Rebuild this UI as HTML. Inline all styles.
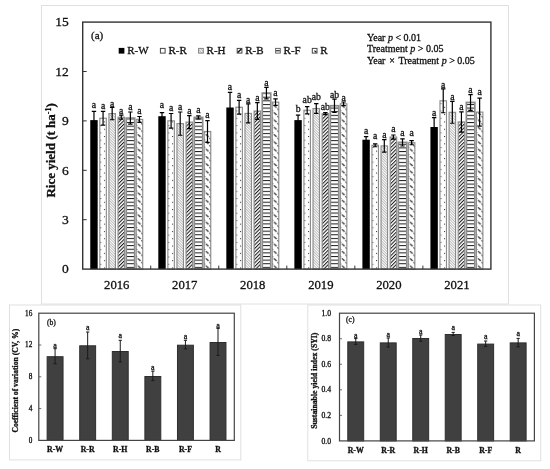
<!DOCTYPE html>
<html><head><meta charset="utf-8"><title>Rice yield figure</title>
<style>
html,body{margin:0;padding:0;background:#fff;}
svg{display:block;font-family:"Liberation Serif", serif;filter:blur(0.35px);}
text{fill:#111;stroke:#111;stroke-width:0.3px;}
</style></head><body>
<svg width="550" height="469" viewBox="0 0 550 469">
<defs>
<pattern id="pDot" width="7.3" height="7.3" patternUnits="userSpaceOnUse" patternTransform="translate(0.9 183.5)">
<rect width="7.3" height="7.3" fill="#fff"/>
<rect x="0" y="0" width="1" height="1" fill="#333"/>
<rect x="3.65" y="3.65" width="1" height="1" fill="#333"/>
</pattern>
<pattern id="pThin" width="1.9" height="1.9" patternUnits="userSpaceOnUse" patternTransform="rotate(45)">
<rect width="1.9" height="1.9" fill="#fff"/>
<rect x="0" y="0" width="1.9" height="0.55" fill="#888"/>
</pattern>
<pattern id="pWide" width="2.55" height="2.55" patternUnits="userSpaceOnUse" patternTransform="rotate(-45)">
<rect width="2.55" height="2.55" fill="#fff"/>
<rect x="0" y="0" width="2.55" height="1.05" fill="#1a1a1a"/>
</pattern>
<pattern id="pHor" width="3.62" height="3.62" patternUnits="userSpaceOnUse" patternTransform="translate(0 2.6)">
<rect width="3.62" height="3.62" fill="#fff"/>
<rect x="0" y="0" width="3.62" height="1.0" fill="#1a1a1a"/>
</pattern>
<pattern id="pDash" width="7.3" height="7.3" patternUnits="userSpaceOnUse" patternTransform="translate(0 2.65)">
<rect width="7.3" height="7.3" fill="#fff"/>
<path d="M2.0 0.3 L4.8 2.7 M5.65 3.95 L8.45 6.35 M-1.65 3.95 L1.15 6.35" stroke="#111" stroke-width="1.05" fill="none"/>
</pattern>
</defs>
<rect width="550" height="469" fill="#fff"/>

<rect x="41.5" y="5.5" width="467" height="298.5" fill="#fff" stroke="#e0e0e0" stroke-width="1"/>
<rect x="9.5" y="305" width="231.3" height="154.9" fill="#fff" stroke="#e0e0e0" stroke-width="1"/>
<rect x="307.8" y="305" width="232.9" height="155.8" fill="#fff" stroke="#e0e0e0" stroke-width="1"/>
<rect x="90.27" y="120.10" width="7.4" height="149.00" fill="#000"/>
<path d="M93.97 111.40V128.80M91.77 111.40h4.4M91.77 128.80h4.4" stroke="#000" stroke-width="1.2" fill="none"/>
<text x="93.97" y="107.50" font-size="9.7" text-anchor="middle">a</text>
<g transform="translate(99.37 0)"><rect x="0.45" y="118.22" width="6.50" height="150.88" fill="url(#pDot)" stroke="#8c8c8c" stroke-width="1.15"/></g>
<path d="M103.07 111.40V125.05M100.87 111.40h4.4M100.87 125.05h4.4" stroke="#000" stroke-width="1.2" fill="none"/>
<text x="103.07" y="108.80" font-size="9.7" text-anchor="middle">a</text>
<g transform="translate(108.47 0)"><rect x="0.45" y="113.62" width="6.50" height="155.48" fill="url(#pThin)" stroke="#8c8c8c" stroke-width="1.15"/></g>
<path d="M112.17 107.50V119.75M109.97 107.50h4.4M109.97 119.75h4.4" stroke="#000" stroke-width="1.2" fill="none"/>
<text x="112.17" y="106.90" font-size="9.7" text-anchor="middle">a</text>
<g transform="translate(117.57 0)"><rect x="0.45" y="117.22" width="6.50" height="151.88" fill="url(#pWide)" stroke="#8c8c8c" stroke-width="1.15"/></g>
<path d="M121.27 115.20V119.25M119.07 115.20h4.4M119.07 119.25h4.4" stroke="#000" stroke-width="1.2" fill="none"/>
<text x="121.27" y="114.30" font-size="9.7" text-anchor="middle">a</text>
<g transform="translate(126.67 0)"><rect x="-0.45" y="118.10" width="8.45" height="151.00" fill="url(#pHor)" stroke="#8c8c8c" stroke-width="1.7"/></g>
<path d="M130.37 112.00V124.20M128.17 112.00h4.4M128.17 124.20h4.4" stroke="#000" stroke-width="1.2" fill="none"/>
<text x="130.37" y="110.00" font-size="9.7" text-anchor="middle">a</text>
<g transform="translate(135.77 0)"><rect x="0.45" y="119.42" width="6.50" height="149.68" fill="url(#pDash)" stroke="#8c8c8c" stroke-width="1.15"/></g>
<path d="M139.47 116.50V122.35M137.27 116.50h4.4M137.27 122.35h4.4" stroke="#000" stroke-width="1.2" fill="none"/>
<text x="139.47" y="113.50" font-size="9.7" text-anchor="middle">a</text>
<text x="116.72" y="288.6" font-size="12.7" text-anchor="middle">2016</text>
<rect x="158.30" y="116.20" width="7.4" height="152.90" fill="#000"/>
<path d="M162.00 112.60V119.80M159.80 112.60h4.4M159.80 119.80h4.4" stroke="#000" stroke-width="1.2" fill="none"/>
<text x="162.00" y="108.40" font-size="9.7" text-anchor="middle">a</text>
<g transform="translate(167.40 0)"><rect x="0.45" y="120.83" width="6.50" height="148.28" fill="url(#pDot)" stroke="#8c8c8c" stroke-width="1.15"/></g>
<path d="M171.10 113.50V128.15M168.90 113.50h4.4M168.90 128.15h4.4" stroke="#000" stroke-width="1.2" fill="none"/>
<text x="171.10" y="111.40" font-size="9.7" text-anchor="middle">a</text>
<g transform="translate(176.50 0)"><rect x="0.45" y="123.62" width="6.50" height="145.48" fill="url(#pThin)" stroke="#8c8c8c" stroke-width="1.15"/></g>
<path d="M180.20 112.00V135.25M178.00 112.00h4.4M178.00 135.25h4.4" stroke="#000" stroke-width="1.2" fill="none"/>
<text x="180.20" y="110.00" font-size="9.7" text-anchor="middle">a</text>
<g transform="translate(185.60 0)"><rect x="0.45" y="122.12" width="6.50" height="146.98" fill="url(#pWide)" stroke="#8c8c8c" stroke-width="1.15"/></g>
<path d="M189.30 115.60V128.65M187.10 115.60h4.4M187.10 128.65h4.4" stroke="#000" stroke-width="1.2" fill="none"/>
<text x="189.30" y="114.00" font-size="9.7" text-anchor="middle">a</text>
<g transform="translate(194.70 0)"><rect x="-0.45" y="117.40" width="8.45" height="151.70" fill="url(#pHor)" stroke="#8c8c8c" stroke-width="1.7"/></g>
<path d="M198.40 115.80V119.00M196.20 115.80h4.4M196.20 119.00h4.4" stroke="#000" stroke-width="1.2" fill="none"/>
<text x="198.40" y="113.00" font-size="9.7" text-anchor="middle">a</text>
<g transform="translate(203.80 0)"><rect x="0.45" y="131.53" width="6.50" height="137.58" fill="url(#pDash)" stroke="#8c8c8c" stroke-width="1.15"/></g>
<path d="M207.50 120.70V142.35M205.30 120.70h4.4M205.30 142.35h4.4" stroke="#000" stroke-width="1.2" fill="none"/>
<text x="207.50" y="118.10" font-size="9.7" text-anchor="middle">a</text>
<text x="184.75" y="288.6" font-size="12.7" text-anchor="middle">2017</text>
<rect x="226.33" y="107.50" width="7.4" height="161.60" fill="#000"/>
<path d="M230.03 92.40V122.60M227.83 92.40h4.4M227.83 122.60h4.4" stroke="#000" stroke-width="1.2" fill="none"/>
<text x="230.03" y="89.50" font-size="9.7" text-anchor="middle">a</text>
<g transform="translate(235.43 0)"><rect x="0.45" y="107.22" width="6.50" height="161.88" fill="url(#pDot)" stroke="#8c8c8c" stroke-width="1.15"/></g>
<path d="M239.13 100.30V114.15M236.93 100.30h4.4M236.93 114.15h4.4" stroke="#000" stroke-width="1.2" fill="none"/>
<text x="239.13" y="98.40" font-size="9.7" text-anchor="middle">a</text>
<g transform="translate(244.53 0)"><rect x="0.45" y="113.42" width="6.50" height="155.68" fill="url(#pThin)" stroke="#8c8c8c" stroke-width="1.15"/></g>
<path d="M248.23 103.90V122.95M246.03 103.90h4.4M246.03 122.95h4.4" stroke="#000" stroke-width="1.2" fill="none"/>
<text x="248.23" y="102.60" font-size="9.7" text-anchor="middle">a</text>
<g transform="translate(253.63 0)"><rect x="0.45" y="111.03" width="6.50" height="158.08" fill="url(#pWide)" stroke="#8c8c8c" stroke-width="1.15"/></g>
<path d="M257.33 102.60V119.45M255.13 102.60h4.4M255.13 119.45h4.4" stroke="#000" stroke-width="1.2" fill="none"/>
<text x="257.33" y="100.70" font-size="9.7" text-anchor="middle">a</text>
<g transform="translate(262.73 0)"><rect x="-0.45" y="93.05" width="8.45" height="176.05" fill="url(#pHor)" stroke="#8c8c8c" stroke-width="1.7"/></g>
<path d="M266.43 87.30V98.80M264.23 87.30h4.4M264.23 98.80h4.4" stroke="#000" stroke-width="1.2" fill="none"/>
<text x="266.43" y="86.00" font-size="9.7" text-anchor="middle">a</text>
<g transform="translate(271.83 0)"><rect x="0.45" y="102.12" width="6.50" height="166.98" fill="url(#pDash)" stroke="#8c8c8c" stroke-width="1.15"/></g>
<path d="M275.53 98.80V105.45M273.33 98.80h4.4M273.33 105.45h4.4" stroke="#000" stroke-width="1.2" fill="none"/>
<text x="275.53" y="96.20" font-size="9.7" text-anchor="middle">a</text>
<text x="252.78" y="288.6" font-size="12.7" text-anchor="middle">2018</text>
<rect x="294.37" y="120.10" width="7.4" height="149.00" fill="#000"/>
<path d="M298.07 115.20V125.00M295.87 115.20h4.4M295.87 125.00h4.4" stroke="#000" stroke-width="1.2" fill="none"/>
<text x="298.07" y="112.00" font-size="9.7" text-anchor="middle">b</text>
<g transform="translate(303.47 0)"><rect x="0.45" y="110.22" width="6.50" height="158.88" fill="url(#pDot)" stroke="#8c8c8c" stroke-width="1.15"/></g>
<path d="M307.17 106.60V113.85M304.97 106.60h4.4M304.97 113.85h4.4" stroke="#000" stroke-width="1.2" fill="none"/>
<text x="307.17" y="103.20" font-size="9.7" text-anchor="middle">ab</text>
<g transform="translate(312.57 0)"><rect x="0.45" y="108.53" width="6.50" height="160.58" fill="url(#pThin)" stroke="#8c8c8c" stroke-width="1.15"/></g>
<path d="M316.27 103.70V113.35M314.07 103.70h4.4M314.07 113.35h4.4" stroke="#000" stroke-width="1.2" fill="none"/>
<text x="316.27" y="99.50" font-size="9.7" text-anchor="middle">ab</text>
<g transform="translate(321.67 0)"><rect x="0.45" y="113.62" width="6.50" height="155.48" fill="url(#pWide)" stroke="#8c8c8c" stroke-width="1.15"/></g>
<path d="M325.37 112.60V114.65M323.17 112.60h4.4M323.17 114.65h4.4" stroke="#000" stroke-width="1.2" fill="none"/>
<text x="325.37" y="110.00" font-size="9.7" text-anchor="middle">ab</text>
<g transform="translate(330.77 0)"><rect x="-0.45" y="105.75" width="8.45" height="163.35" fill="url(#pHor)" stroke="#8c8c8c" stroke-width="1.7"/></g>
<path d="M334.47 99.20V112.30M332.27 99.20h4.4M332.27 112.30h4.4" stroke="#000" stroke-width="1.2" fill="none"/>
<text x="334.47" y="97.60" font-size="9.7" text-anchor="middle">ab</text>
<g transform="translate(339.87 0)"><rect x="0.45" y="103.83" width="6.50" height="165.28" fill="url(#pDash)" stroke="#8c8c8c" stroke-width="1.15"/></g>
<path d="M343.57 102.00V105.65M341.37 102.00h4.4M341.37 105.65h4.4" stroke="#000" stroke-width="1.2" fill="none"/>
<text x="343.57" y="100.50" font-size="9.7" text-anchor="middle">a</text>
<text x="320.82" y="288.6" font-size="12.7" text-anchor="middle">2019</text>
<rect x="362.40" y="139.70" width="7.4" height="129.40" fill="#000"/>
<path d="M366.10 136.60V142.80M363.90 136.60h4.4M363.90 142.80h4.4" stroke="#000" stroke-width="1.2" fill="none"/>
<text x="366.10" y="133.70" font-size="9.7" text-anchor="middle">a</text>
<g transform="translate(371.50 0)"><rect x="0.45" y="145.32" width="6.50" height="123.78" fill="url(#pDot)" stroke="#8c8c8c" stroke-width="1.15"/></g>
<path d="M375.20 143.90V146.75M373.00 143.90h4.4M373.00 146.75h4.4" stroke="#000" stroke-width="1.2" fill="none"/>
<text x="375.20" y="138.80" font-size="9.7" text-anchor="middle">a</text>
<g transform="translate(380.60 0)"><rect x="0.45" y="145.93" width="6.50" height="123.18" fill="url(#pThin)" stroke="#8c8c8c" stroke-width="1.15"/></g>
<path d="M384.30 139.70V152.15M382.10 139.70h4.4M382.10 152.15h4.4" stroke="#000" stroke-width="1.2" fill="none"/>
<text x="384.30" y="137.90" font-size="9.7" text-anchor="middle">a</text>
<g transform="translate(389.70 0)"><rect x="0.45" y="137.03" width="6.50" height="132.08" fill="url(#pWide)" stroke="#8c8c8c" stroke-width="1.15"/></g>
<path d="M393.40 135.00V139.05M391.20 135.00h4.4M391.20 139.05h4.4" stroke="#000" stroke-width="1.2" fill="none"/>
<text x="393.40" y="132.40" font-size="9.7" text-anchor="middle">a</text>
<g transform="translate(398.80 0)"><rect x="-0.45" y="142.40" width="8.45" height="126.70" fill="url(#pHor)" stroke="#8c8c8c" stroke-width="1.7"/></g>
<path d="M402.50 138.80V146.00M400.30 138.80h4.4M400.30 146.00h4.4" stroke="#000" stroke-width="1.2" fill="none"/>
<text x="402.50" y="136.20" font-size="9.7" text-anchor="middle">a</text>
<g transform="translate(407.90 0)"><rect x="0.45" y="142.72" width="6.50" height="126.38" fill="url(#pDash)" stroke="#8c8c8c" stroke-width="1.15"/></g>
<path d="M411.60 140.70V144.75M409.40 140.70h4.4M409.40 144.75h4.4" stroke="#000" stroke-width="1.2" fill="none"/>
<text x="411.60" y="136.20" font-size="9.7" text-anchor="middle">a</text>
<text x="388.85" y="288.6" font-size="12.7" text-anchor="middle">2020</text>
<rect x="430.43" y="127.00" width="7.4" height="142.10" fill="#000"/>
<path d="M434.13 117.60V136.40M431.93 117.60h4.4M431.93 136.40h4.4" stroke="#000" stroke-width="1.2" fill="none"/>
<text x="434.13" y="115.80" font-size="9.7" text-anchor="middle">a</text>
<g transform="translate(439.53 0)"><rect x="0.45" y="100.83" width="6.50" height="168.28" fill="url(#pDot)" stroke="#8c8c8c" stroke-width="1.15"/></g>
<path d="M443.23 88.90V112.75M441.03 88.90h4.4M441.03 112.75h4.4" stroke="#000" stroke-width="1.2" fill="none"/>
<text x="443.23" y="87.70" font-size="9.7" text-anchor="middle">a</text>
<g transform="translate(448.63 0)"><rect x="0.45" y="112.33" width="6.50" height="156.78" fill="url(#pThin)" stroke="#8c8c8c" stroke-width="1.15"/></g>
<path d="M452.33 101.40V123.25M450.13 101.40h4.4M450.13 123.25h4.4" stroke="#000" stroke-width="1.2" fill="none"/>
<text x="452.33" y="99.70" font-size="9.7" text-anchor="middle">a</text>
<g transform="translate(457.73 0)"><rect x="0.45" y="121.92" width="6.50" height="147.18" fill="url(#pWide)" stroke="#8c8c8c" stroke-width="1.15"/></g>
<path d="M461.43 111.80V132.05M459.23 111.80h4.4M459.23 132.05h4.4" stroke="#000" stroke-width="1.2" fill="none"/>
<text x="461.43" y="109.70" font-size="9.7" text-anchor="middle">a</text>
<g transform="translate(466.83 0)"><rect x="-0.45" y="102.45" width="8.45" height="166.65" fill="url(#pHor)" stroke="#8c8c8c" stroke-width="1.7"/></g>
<path d="M470.53 94.60V110.30M468.33 94.60h4.4M468.33 110.30h4.4" stroke="#000" stroke-width="1.2" fill="none"/>
<text x="470.53" y="93.00" font-size="9.7" text-anchor="middle">a</text>
<g transform="translate(475.93 0)"><rect x="0.45" y="112.12" width="6.50" height="156.98" fill="url(#pDash)" stroke="#8c8c8c" stroke-width="1.15"/></g>
<path d="M479.63 98.20V126.05M477.43 98.20h4.4M477.43 126.05h4.4" stroke="#000" stroke-width="1.2" fill="none"/>
<text x="479.63" y="95.00" font-size="9.7" text-anchor="middle">a</text>
<text x="456.88" y="288.6" font-size="12.7" text-anchor="middle">2021</text>
<rect x="82.7" y="22.1" width="408.20" height="247.00" fill="none" stroke="#333" stroke-width="1.4"/>
<text x="68.8" y="273.40" font-size="13.5" text-anchor="end">0</text>
<path d="M82.7 219.70h4" stroke="#333" stroke-width="1"/>
<text x="68.8" y="224.00" font-size="13.5" text-anchor="end">3</text>
<path d="M82.7 170.30h4" stroke="#333" stroke-width="1"/>
<text x="68.8" y="174.60" font-size="13.5" text-anchor="end">6</text>
<path d="M82.7 120.90h4" stroke="#333" stroke-width="1"/>
<text x="68.8" y="125.20" font-size="13.5" text-anchor="end">9</text>
<path d="M82.7 71.50h4" stroke="#333" stroke-width="1"/>
<text x="68.8" y="75.80" font-size="13.5" text-anchor="end">12</text>
<text x="68.8" y="25.60" font-size="13.5" text-anchor="end">15</text>
<path d="M150.73 269.1v-3.5" stroke="#333" stroke-width="1"/>
<path d="M218.77 269.1v-3.5" stroke="#333" stroke-width="1"/>
<path d="M286.80 269.1v-3.5" stroke="#333" stroke-width="1"/>
<path d="M354.83 269.1v-3.5" stroke="#333" stroke-width="1"/>
<path d="M422.87 269.1v-3.5" stroke="#333" stroke-width="1"/>
<text transform="translate(55.3 150.4) rotate(-90)" font-size="13" font-weight="bold" text-anchor="middle">Rice yield (t ha<tspan font-size="8" dy="-4.5">-1</tspan><tspan dy="4.5">)</tspan></text>
<text x="91" y="38.5" font-size="11">(a)</text>
<rect x="118.7" y="47.9" width="5.7" height="5.7" fill="#000"/>
<text x="127.2" y="54.4" font-size="11">R-W</text>
<g transform="translate(159.9 0)"><rect x="0.5" y="48.4" width="4.7" height="4.7" fill="#fff" stroke="#444" stroke-width="1"/></g>
<text x="168.4" y="54.4" font-size="11">R-R</text>
<g transform="translate(198.1 0)"><rect x="0.5" y="48.4" width="4.7" height="4.7" fill="url(#pThin)" stroke="#808080" stroke-width="1"/></g>
<text x="206.6" y="54.4" font-size="11">R-H</text>
<g transform="translate(236.7 0)"><rect x="0.5" y="48.4" width="4.7" height="4.7" fill="#fff" stroke="#444" stroke-width="1"/><path d="M1 52.6L4.7 48.9" stroke="#111" stroke-width="1.4"/></g>
<text x="245.2" y="54.4" font-size="11">R-B</text>
<g transform="translate(275.1 0)"><rect x="0.5" y="48.4" width="4.7" height="4.7" fill="#fff" stroke="#666" stroke-width="1"/><path d="M1 50.75h3.7" stroke="#111" stroke-width="1.1"/></g>
<text x="283.6" y="54.4" font-size="11">R-F</text>
<g transform="translate(311.8 0)"><rect x="0.5" y="48.4" width="4.7" height="4.7" fill="#fff" stroke="#444" stroke-width="1"/><path d="M2.6 50.6L4.6 52.4" stroke="#111" stroke-width="1.2"/></g>
<text x="320.3" y="54.4" font-size="11">R</text>
<text x="367" y="40.5" font-size="10">Year <tspan font-style="italic">p</tspan> &lt; 0.01</text>
<text x="367" y="52.4" font-size="10">Treatment <tspan font-style="italic">p</tspan> &gt; 0.05</text>
<text x="367" y="64.3" font-size="10">Year <tspan dx="1.2">×</tspan><tspan dx="1.3"> Treatment </tspan><tspan font-style="italic">p</tspan> &gt; 0.05</text>
<rect x="47.14" y="356.70" width="15.899999999999999" height="83.70" fill="#404040" stroke="#2e2e2e" stroke-width="1"/>
<path d="M55.09 348.70V363.70M53.49 348.70h3.2M53.49 363.70h3.2" stroke="#1a1a1a" stroke-width="1" fill="none"/>
<text x="55.09" y="348.30" font-size="8" text-anchor="middle">a</text>
<text x="55.09" y="452.3" font-size="7.8" font-weight="bold" text-anchor="middle">R-W</text>
<rect x="79.72" y="345.80" width="15.899999999999999" height="94.60" fill="#404040" stroke="#2e2e2e" stroke-width="1"/>
<path d="M87.67 332.00V358.80M86.08 332.00h3.2M86.08 358.80h3.2" stroke="#1a1a1a" stroke-width="1" fill="none"/>
<text x="87.67" y="329.90" font-size="8" text-anchor="middle">a</text>
<text x="87.67" y="452.3" font-size="7.8" font-weight="bold" text-anchor="middle">R-R</text>
<rect x="112.31" y="351.50" width="15.899999999999999" height="88.90" fill="#404040" stroke="#2e2e2e" stroke-width="1"/>
<path d="M120.26 340.30V362.00M118.66 340.30h3.2M118.66 362.00h3.2" stroke="#1a1a1a" stroke-width="1" fill="none"/>
<text x="120.26" y="338.10" font-size="8" text-anchor="middle">a</text>
<text x="120.26" y="452.3" font-size="7.8" font-weight="bold" text-anchor="middle">R-H</text>
<rect x="144.89" y="376.50" width="15.899999999999999" height="63.90" fill="#404040" stroke="#2e2e2e" stroke-width="1"/>
<path d="M152.84 371.20V380.60M151.24 371.20h3.2M151.24 380.60h3.2" stroke="#1a1a1a" stroke-width="1" fill="none"/>
<text x="152.84" y="370.10" font-size="8" text-anchor="middle">a</text>
<text x="152.84" y="452.3" font-size="7.8" font-weight="bold" text-anchor="middle">R-B</text>
<rect x="177.48" y="345.20" width="15.899999999999999" height="95.20" fill="#404040" stroke="#2e2e2e" stroke-width="1"/>
<path d="M185.43 340.30V348.90M183.83 340.30h3.2M183.83 348.90h3.2" stroke="#1a1a1a" stroke-width="1" fill="none"/>
<text x="185.43" y="338.70" font-size="8" text-anchor="middle">a</text>
<text x="185.43" y="452.3" font-size="7.8" font-weight="bold" text-anchor="middle">R-F</text>
<rect x="210.06" y="342.50" width="15.899999999999999" height="97.90" fill="#404040" stroke="#2e2e2e" stroke-width="1"/>
<path d="M218.01 328.40V355.40M216.41 328.40h3.2M216.41 355.40h3.2" stroke="#1a1a1a" stroke-width="1" fill="none"/>
<text x="218.01" y="327.70" font-size="8" text-anchor="middle">a</text>
<text x="218.01" y="452.3" font-size="7.8" font-weight="bold" text-anchor="middle">R</text>
<rect x="38.8" y="313.2" width="195.50" height="127.20" fill="none" stroke="#444" stroke-width="1.2"/>
<text x="32.3" y="442.85" font-size="7.2" stroke-width="0.1" fill="#222" text-anchor="end">0</text>
<path d="M38.8 408.60h2.5" stroke="#4a4a4a" stroke-width="0.8"/>
<text x="32.3" y="411.05" font-size="7.2" stroke-width="0.1" fill="#222" text-anchor="end">4</text>
<path d="M38.8 376.80h2.5" stroke="#4a4a4a" stroke-width="0.8"/>
<text x="32.3" y="379.25" font-size="7.2" stroke-width="0.1" fill="#222" text-anchor="end">8</text>
<path d="M38.8 345.00h2.5" stroke="#4a4a4a" stroke-width="0.8"/>
<text x="32.3" y="347.45" font-size="7.2" stroke-width="0.1" fill="#222" text-anchor="end">12</text>
<text x="32.3" y="315.65" font-size="7.2" stroke-width="0.1" fill="#222" text-anchor="end">16</text>
<text transform="translate(18.0 380.7) rotate(-90)" font-size="7.63" font-weight="bold" text-anchor="middle">Coefficient of variation (CV, %)</text>
<text x="47.0" y="325.0" font-size="7.6">(b)</text>
<rect x="347.79" y="341.90" width="15.899999999999999" height="99.00" fill="#404040" stroke="#2e2e2e" stroke-width="1"/>
<path d="M355.74 338.60V344.40M354.14 338.60h3.2M354.14 344.40h3.2" stroke="#1a1a1a" stroke-width="1" fill="none"/>
<text x="355.74" y="337.70" font-size="8" text-anchor="middle">a</text>
<text x="355.74" y="452.8" font-size="7.8" font-weight="bold" text-anchor="middle">R-W</text>
<rect x="380.28" y="342.90" width="15.899999999999999" height="98.00" fill="#404040" stroke="#2e2e2e" stroke-width="1"/>
<path d="M388.23 338.00V347.00M386.62 338.00h3.2M386.62 347.00h3.2" stroke="#1a1a1a" stroke-width="1" fill="none"/>
<text x="388.23" y="337.30" font-size="8" text-anchor="middle">a</text>
<text x="388.23" y="452.8" font-size="7.8" font-weight="bold" text-anchor="middle">R-R</text>
<rect x="412.76" y="338.50" width="15.899999999999999" height="102.40" fill="#404040" stroke="#2e2e2e" stroke-width="1"/>
<path d="M420.71 335.00V341.20M419.11 335.00h3.2M419.11 341.20h3.2" stroke="#1a1a1a" stroke-width="1" fill="none"/>
<text x="420.71" y="333.70" font-size="8" text-anchor="middle">a</text>
<text x="420.71" y="452.8" font-size="7.8" font-weight="bold" text-anchor="middle">R-H</text>
<rect x="445.24" y="334.50" width="15.899999999999999" height="106.40" fill="#404040" stroke="#2e2e2e" stroke-width="1"/>
<path d="M453.19 332.40V335.50M451.59 332.40h3.2M451.59 335.50h3.2" stroke="#1a1a1a" stroke-width="1" fill="none"/>
<text x="453.19" y="330.30" font-size="8" text-anchor="middle">a</text>
<text x="453.19" y="452.8" font-size="7.8" font-weight="bold" text-anchor="middle">R-B</text>
<rect x="477.72" y="344.10" width="15.899999999999999" height="96.80" fill="#404040" stroke="#2e2e2e" stroke-width="1"/>
<path d="M485.67 341.00V346.40M484.07 341.00h3.2M484.07 346.40h3.2" stroke="#1a1a1a" stroke-width="1" fill="none"/>
<text x="485.67" y="338.90" font-size="8" text-anchor="middle">a</text>
<text x="485.67" y="452.8" font-size="7.8" font-weight="bold" text-anchor="middle">R-F</text>
<rect x="510.21" y="342.90" width="15.899999999999999" height="98.00" fill="#404040" stroke="#2e2e2e" stroke-width="1"/>
<path d="M518.16 338.40V346.80M516.56 338.40h3.2M516.56 346.80h3.2" stroke="#1a1a1a" stroke-width="1" fill="none"/>
<text x="518.16" y="335.70" font-size="8" text-anchor="middle">a</text>
<text x="518.16" y="452.8" font-size="7.8" font-weight="bold" text-anchor="middle">R</text>
<rect x="339.5" y="313.2" width="194.90" height="127.70" fill="none" stroke="#444" stroke-width="1.2"/>
<text x="331.0" y="443.52" font-size="7.7" stroke-width="0.1" fill="#222" text-anchor="end">0.0</text>
<path d="M339.5 415.36h2.5" stroke="#4a4a4a" stroke-width="0.8"/>
<text x="331.0" y="417.98" font-size="7.7" stroke-width="0.1" fill="#222" text-anchor="end">0.2</text>
<path d="M339.5 389.82h2.5" stroke="#4a4a4a" stroke-width="0.8"/>
<text x="331.0" y="392.44" font-size="7.7" stroke-width="0.1" fill="#222" text-anchor="end">0.4</text>
<path d="M339.5 364.28h2.5" stroke="#4a4a4a" stroke-width="0.8"/>
<text x="331.0" y="366.90" font-size="7.7" stroke-width="0.1" fill="#222" text-anchor="end">0.6</text>
<path d="M339.5 338.74h2.5" stroke="#4a4a4a" stroke-width="0.8"/>
<text x="331.0" y="341.36" font-size="7.7" stroke-width="0.1" fill="#222" text-anchor="end">0.8</text>
<text x="331.0" y="315.82" font-size="7.7" stroke-width="0.1" fill="#222" text-anchor="end">1.0</text>
<text transform="translate(317.3 380.7) rotate(-90)" font-size="7.75" font-weight="bold" text-anchor="middle">Sustainable yield index (SYI)</text>
<text x="346.0" y="321.9" font-size="7.6">(c)</text>
</svg></body></html>
